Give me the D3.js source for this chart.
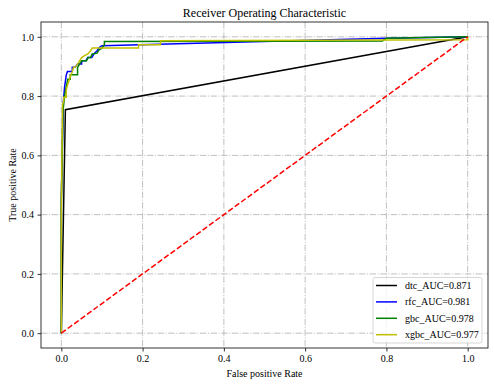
<!DOCTYPE html>
<html>
<head>
<meta charset="utf-8">
<script src="https://cdn.jsdelivr.net/npm/d3@7"></script>
<style>
  body { margin: 0; background: #fff; }
  svg text { font-family: "Liberation Serif", "DejaVu Serif", serif; fill: #000; }
</style>
</head>
<body>
<div id="chart"></div>
<script>
// ROC points, [fpr, tpr]
const dtcPoints = [[0, 0], [0.01, 0.754], [1, 1]];
const rfcPoints = [[0, 0], [0, 0.45], [0.005, 0.78], [0.008, 0.83], [0.012, 0.87], [0.015, 0.883],
  [0.027, 0.883], [0.027, 0.897], [0.034, 0.897], [0.04, 0.908], [0.05, 0.908], [0.05, 0.919],
  [0.06, 0.919], [0.065, 0.93], [0.075, 0.93], [0.08, 0.942], [0.088, 0.953], [0.094, 0.965],
  [0.1, 0.97], [0.8, 0.995], [1, 1]];
const gbcPoints = [[0, 0], [0, 0.44], [0.004, 0.75], [0.008, 0.8], [0.012, 0.83], [0.016, 0.857],
  [0.022, 0.857], [0.022, 0.872], [0.04, 0.872], [0.04, 0.897], [0.045, 0.908], [0.05, 0.919],
  [0.062, 0.919], [0.066, 0.93], [0.072, 0.93], [0.076, 0.942], [0.088, 0.945], [0.092, 0.955],
  [0.1, 0.962], [0.106, 0.973], [0.106, 0.984], [0.79, 0.986], [0.8, 0.995], [1, 1]];
const xgbcPoints = [[0, 0], [0, 0.42], [0.003, 0.77], [0.006, 0.785], [0.006, 0.796], [0.012, 0.796],
  [0.012, 0.82], [0.016, 0.841], [0.02, 0.857], [0.027, 0.883], [0.03, 0.897], [0.034, 0.897],
  [0.04, 0.908], [0.045, 0.919], [0.05, 0.93], [0.055, 0.935], [0.065, 0.942], [0.072, 0.953],
  [0.076, 0.962], [0.19, 0.962], [0.19, 0.973], [0.244, 0.973], [0.244, 0.987], [1, 0.99], [1, 1]];
const chancePoints = [[0, 0], [1, 1]];

const seriesNames = ['dtc_AUC=0.871', 'rfc_AUC=0.981', 'gbc_AUC=0.978', 'xgbc_AUC=0.977'];
const seriesColors = ['#000000', '#0000ff', '#008000', '#bfbf00'];
const tickValues = [0, 0.2, 0.4, 0.6, 0.8, 1.0];

const W = 494, H = 386;
const margins = { top: 22, right: 6, bottom: 38, left: 41 };
const width = W - margins.left - margins.right;
const height = H - margins.top - margins.bottom;

const svg = d3.select('#chart')
  .append('svg')
  .attr('width', W)
  .attr('height', H);

const g = svg.append('g')
  .attr('transform', `translate(${margins.left},${margins.top})`);

const x = d3.scaleLinear().domain([-0.05, 1.05]).range([0, width]);
const y = d3.scaleLinear().domain([-0.05, 1.05]).range([height, 0]);

// grid
const gridStyle = '6.4,1.6,1,1.6';
g.append('g').selectAll('line')
  .data(tickValues)
  .enter().append('line')
  .attr('x1', d => x(d)).attr('x2', d => x(d))
  .attr('y1', 0).attr('y2', height)
  .attr('stroke', '#b0b0b0').attr('stroke-width', 0.8)
  .attr('stroke-dasharray', gridStyle);
g.append('g').selectAll('line')
  .data(tickValues)
  .enter().append('line')
  .attr('y1', d => y(d)).attr('y2', d => y(d))
  .attr('x1', 0).attr('x2', width)
  .attr('stroke', '#b0b0b0').attr('stroke-width', 0.8)
  .attr('stroke-dasharray', gridStyle);

// axes
const xAxis = g.append('g')
  .attr('transform', `translate(0,${height})`)
  .call(d3.axisBottom(x).tickValues(tickValues).tickFormat(d3.format('.1f')).tickSizeOuter(0).tickSize(3.5).tickPadding(3.5));
const yAxis = g.append('g')
  .call(d3.axisLeft(y).tickValues(tickValues).tickFormat(d3.format('.1f')).tickSizeOuter(0).tickSize(3.5).tickPadding(3.5));
[xAxis, yAxis].forEach(a => {
  a.select('.domain').remove();
  a.selectAll('.tick line').attr('stroke', '#000').attr('stroke-width', 0.8);
  a.selectAll('.tick text').style('font-size', '10px').attr('fill', '#000');
});

const line = d3.line().x(d => x(d[0])).y(d => y(d[1]));

const curves = [dtcPoints, rfcPoints, gbcPoints, xgbcPoints];
g.append('g').selectAll('path')
  .data(curves)
  .enter().append('path')
  .attr('d', d => line(d))
  .attr('fill', 'none')
  .attr('stroke', (d, i) => seriesColors[i])
  .attr('stroke-width', 1.5)
  .attr('stroke-linejoin', 'miter');

g.append('path')
  .attr('d', line(chancePoints))
  .attr('fill', 'none')
  .attr('stroke', '#ff0000')
  .attr('stroke-width', 1.5)
  .attr('stroke-dasharray', '5.55,2.4');

// frame
g.append('rect')
  .attr('width', width).attr('height', height)
  .attr('fill', 'none').attr('stroke', '#000').attr('stroke-width', 0.8);

// labels
svg.append('text')
  .attr('x', margins.left + width / 2)
  .attr('y', 17)
  .attr('text-anchor', 'middle')
  .style('font-size', '12px')
  .text('Receiver Operating Characteristic');

svg.append('text')
  .attr('x', margins.left + width / 2)
  .attr('y', 377)
  .attr('text-anchor', 'middle')
  .style('font-size', '10px')
  .text('False positive Rate');

svg.append('text')
  .attr('transform', `translate(16,${margins.top + height / 2}) rotate(-90)`)
  .attr('text-anchor', 'middle')
  .style('font-size', '10px')
  .text('True positive Rate');

// legend
const legend = g.append('g')
  .attr('transform', `translate(${width - 115},${height - 70.5})`);
legend.append('rect')
  .attr('width', 109).attr('height', 65.5)
  .attr('rx', 2).attr('ry', 2)
  .attr('fill', '#fff').attr('fill-opacity', 0.8)
  .attr('stroke', '#cccccc').attr('stroke-width', 0.8);
const items = legend.selectAll('g.item')
  .data(seriesNames)
  .enter().append('g')
  .attr('transform', (d, i) => `translate(0,${8 + i * 16.4})`);
items.append('line')
  .attr('x1', 3).attr('x2', 24)
  .attr('stroke', (d, i) => seriesColors[i])
  .attr('stroke-width', 1.5);
items.append('text')
  .attr('x', 32)
  .attr('dy', '0.35em')
  .style('font-size', '10px')
  .text(d => d);
</script>
</body>
</html>
